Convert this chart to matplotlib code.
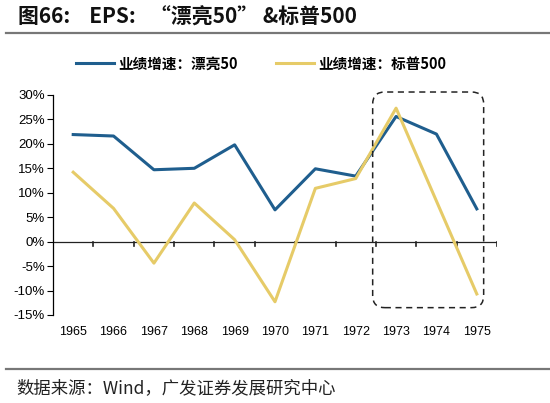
import matplotlib.pyplot as plt
from matplotlib.patches import FancyBboxPatch
from matplotlib.ticker import FuncFormatter

plt.rcParams['font.family'] = ['Noto Sans CJK SC', 'DejaVu Sans']

# data (%)
years = ['1965', '1966', '1967', '1968', '1969', '1970', '1971', '1972', '1973', '1974', '1975']
nifty50 = [21.9, 21.6, 14.7, 15.0, 19.8, 6.5, 14.9, 13.4, 25.6, 22.0, 6.7]
sp500 = [14.2, 6.8, -4.4, 7.9, 0.4, -12.3, 10.9, 12.9, 27.3, 8.3, -10.7]

blue = '#1F5E8E'
yellow = '#E6CB68'

fig = plt.figure(figsize=(5.5, 4.03), dpi=100)
ax = fig.add_axes([0.0964, 0.2184, 0.8072, 0.546])

x = range(len(years))
ax.plot(x, nifty50, color=blue, lw=2.2, label='业绩增速：漂亮50')
ax.plot(x, sp500, color=yellow, lw=2.2, label='业绩增速：标普500')

ax.set_xlim(-0.5, len(years) - 0.5)
ax.set_ylim(-15, 30)
ax.set_yticks(range(-15, 31, 5))
ax.yaxis.set_major_formatter(FuncFormatter(lambda v, p: f'{int(v)}%'))
ax.tick_params(axis='y', labelsize=9.5, length=4, direction='out', pad=2)

# x axis drawn at zero, labels at the bottom
for s in ['top', 'right', 'bottom']:
    ax.spines[s].set_visible(False)
ax.spines['left'].set_linewidth(0.9)
ax.axhline(0, color='#222222', lw=0.9, zorder=1)
for b in [i + 0.5 for i in range(len(years))]:
    ax.plot([b, b], [0, -0.8], color='#222222', lw=1.2, zorder=1)
ax.set_xticks(list(x))
ax.set_xticklabels(years, fontsize=9, family=['Liberation Sans', 'DejaVu Sans'])
ax.tick_params(axis='x', length=0, pad=8)
for lab in ax.get_yticklabels():
    lab.set_family(['Liberation Sans', 'DejaVu Sans'])

# dashed highlight box
box = FancyBboxPatch((7.42, -13.5), 2.75, 44.1, boxstyle='round,pad=0,rounding_size=0.3',
                     mutation_aspect=8.26, fill=False, ls=(0, (4, 3)), lw=1.1,
                     edgecolor='#222222', clip_on=False, zorder=3)
ax.add_patch(box)

leg = fig.legend(loc='center', bbox_to_anchor=(0.475, 0.843), ncol=2, frameon=False,
                 fontsize=10.5, handlelength=2.6, columnspacing=2.6, handletextpad=0.3)
for t in leg.get_texts():
    t.set_fontweight('bold')

# title and source
fig.text(0.033, 0.958, '图66:    EPS:   “漂亮50” &标普500', fontsize=15, fontweight='bold',
         va='center', color='#111111')
fig.add_artist(plt.Line2D([0.01, 1.0], [0.918, 0.918], color='#777777', lw=1.6))
fig.add_artist(plt.Line2D([0.01, 1.0], [0.084, 0.084], color='#777777', lw=1.6))
fig.text(0.03, 0.038, '数据来源：Wind，广发证券发展研究中心', fontsize=12.5, va='center', color='#222222')

fig.savefig('out.png', dpi=100)
